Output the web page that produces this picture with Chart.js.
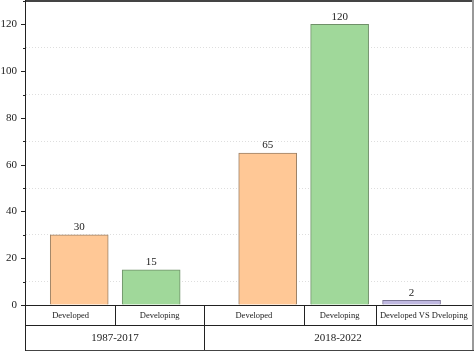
<!DOCTYPE html>
<html>
<head>
<meta charset="utf-8">
<script src="https://cdn.jsdelivr.net/npm/chart.js@4.4.1/dist/chart.umd.min.js"></script>
<style>
	html, body { margin: 0; padding: 0; background: #fff; }
	#chart { display: block; }
</style>
</head>
<body>
<canvas id="chart" width="474" height="351"></canvas>
<script>
// data
var periods = ['1987-2017', '2018-2022'];
var categories = ['Developed', 'Developing', 'Developed', 'Developing', 'Developed VS Dveloping'];
var periodIndex = [0, 0, 1, 1, 1];
var counts = [30, 15, 65, 120, 2];
var yMax = 130;

// styles
var fills = { 'Developed': '#ffc896', 'Developing': '#a0d89a', 'Developed VS Dveloping': '#bfb8e0' };
var edges = { 'Developed': '#9b8066', 'Developing': '#6f9069', 'Developed VS Dveloping': '#7c7698' };
var serif = '"Liberation Serif", "Times New Roman", serif';
var groupGap = 0.62;

// x position of each bar: one slot per bar, extra gap between periods
var xPos = counts.map(function (v, i) { return i + 1 + periodIndex[i] * groupGap; });
var points = counts.map(function (v, i) { return { x: xPos[i], y: v }; });

// table under the plot + value labels + ticks
var tablePlugin = {
	id: 'tablePlugin',
	afterDraw: function (chart) {
		var c = chart.ctx, a = chart.chartArea;
		var x = chart.scales.x, y = chart.scales.y;
		var rowTop = a.bottom, rowMid = a.bottom + 20, rowBot = a.bottom + 45;

		c.save();
		// value labels
		c.fillStyle = '#222';
		c.font = '11px ' + serif;
		c.textAlign = 'center';
		c.textBaseline = 'bottom';
		points.forEach(function (p) {
			c.fillText(String(p.y), x.getPixelForValue(p.x), y.getPixelForValue(p.y) - 2);
		});

		// y ticks
		c.strokeStyle = '#222';
		c.lineWidth = 1;
		for (var v = 0; v <= yMax; v += 10) {
			var py = Math.round(y.getPixelForValue(v)) + 0.5;
			var len = v % 20 === 0 ? 5 : 3;
			c.beginPath();
			c.moveTo(a.left - len, py);
			c.lineTo(a.left, py);
			c.stroke();
		}

		// cell edges
		var edgesX = [a.left];
		for (var i = 1; i < xPos.length; i++) {
			if (periodIndex[i] !== periodIndex[i - 1]) edgesX.push(x.getPixelForValue(xPos[i - 1] + 0.5 + groupGap * 0.38));
			else edgesX.push(x.getPixelForValue((xPos[i - 1] + xPos[i]) / 2));
		}
		edgesX.push(a.right);

		c.strokeStyle = '#222';
		c.beginPath();
		c.moveTo(a.left, Math.round(rowTop) + 0.5); c.lineTo(a.right, Math.round(rowTop) + 0.5);
		c.moveTo(a.left, Math.round(rowMid) + 0.5); c.lineTo(a.right, Math.round(rowMid) + 0.5);
		for (var k = 1; k < edgesX.length - 1; k++) {
			var ex = Math.round(edgesX[k]) + 0.5;
			var full = periodIndex[k] !== periodIndex[k - 1];
			c.moveTo(ex, rowTop); c.lineTo(ex, full ? rowBot : rowMid);
		}
		c.stroke();

		// category names
		c.fillStyle = '#222';
		c.font = '8.5px ' + serif;
		c.textBaseline = 'middle';
		categories.forEach(function (name, i) {
			c.fillText(name, (edgesX[i] + edgesX[i + 1]) / 2, (rowTop + rowMid) / 2 + 1);
		});

		// period names
		c.font = '11px ' + serif;
		periods.forEach(function (name, g) {
			var first = periodIndex.indexOf(g), last = periodIndex.lastIndexOf(g);
			c.fillText(name, (edgesX[first] + edgesX[last + 1]) / 2, (rowMid + rowBot) / 2 + 1);
		});

		// frame
		c.fillStyle = '#444';
		c.fillRect(a.left, 0, a.right - a.left + 2, 2);
		c.fillRect(a.left, rowBot, a.right - a.left + 2, 2);
		c.fillStyle = '#999';
		c.fillRect(a.right, 0, 2, rowBot);
		c.strokeStyle = '#222';
		c.beginPath();
		c.moveTo(a.left - 0.5, 0); c.lineTo(a.left - 0.5, rowBot + 2);
		c.stroke();
		c.restore();
	}
};

var ctx = document.getElementById('chart');
var myChart = new Chart(ctx, {
	type: 'bar',
	data: {
		datasets: [{
			data: points,
			backgroundColor: categories.map(function (n) { return fills[n]; }),
			borderColor: categories.map(function (n) { return edges[n]; }),
			borderWidth: 1,
			borderSkipped: 'bottom',
			barThickness: 58
		}]
	},
	options: {
		responsive: false,
		animation: false,
		layout: {
			padding: { top: 1, left: 0, right: 2, bottom: 46 }
		},
		scales: {
			x: {
				type: 'linear',
				min: 0.26,
				max: 6.46,
				offset: false,
				display: false
			},
			y: {
				min: 0,
				max: yMax,
				border: { display: false, dash: [1, 2] },
				grid: {
					drawTicks: false,
					color: function (c) { return c.tick && c.tick.value % 20 === 10 ? '#dedede' : 'transparent'; },
					lineWidth: 1
				},
				ticks: {
					stepSize: 10,
					padding: 9,
					color: '#222',
					font: { family: serif, size: 11 },
					callback: function (v) { return v % 20 === 0 && v < yMax ? v : ''; }
				},
				afterFit: function (scale) {
					scale.width = 26;
					scale.paddingTop = 0;
					scale.paddingBottom = 0;
				}
			}
		},
		plugins: {
			legend: { display: false },
			tooltip: { enabled: false }
		}
	},
	plugins: [tablePlugin]
});
</script>
</body>
</html>
